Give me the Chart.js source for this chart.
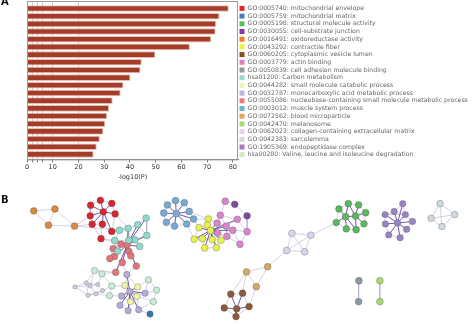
<!DOCTYPE html>
<html>
<head>
<meta charset="utf-8">
<script src="https://cdn.jsdelivr.net/npm/chart.js@4"></script>
<style>
  body { margin: 0; background: #fff; }
  #wrap { position: relative; width: 474px; height: 324px; overflow: hidden; }
  canvas { position: absolute; left: 0; }
  .tag { position: absolute; left: 1px; font: bold 10px "DejaVu Sans", sans-serif; color: #111; }
</style>
</head>
<body>
<div id="wrap">
  <canvas id="bars" width="474" height="181" style="top:0"></canvas>
  <canvas id="net" width="474" height="143" style="top:181px"></canvas>
  <div class="tag" style="top:-4px">A</div>
  <div class="tag" style="top:194px">B</div>
</div>
<script>
// ENRICHED TERMS
const terms = [
    "GO:0005740: mitochondrial envelope",
    "GO:0005759: mitochondrial matrix",
    "GO:0005198: structural molecule activity",
    "GO:0030055: cell-substrate junction",
    "GO:0016491: oxidoreductase activity",
    "GO:0043292: contractile fiber",
    "GO:0060205: cytoplasmic vesicle lumen",
    "GO:0003779: actin binding",
    "GO:0050839: cell adhesion molecule binding",
    "hsa01200: Carbon metabolism",
    "GO:0044282: small molecule catabolic process",
    "GO:0032787: monocarboxylic acid metabolic process",
    "GO:0055086: nucleobase-containing small molecule metabolic process",
    "GO:0003012: muscle system process",
    "GO:0072562: blood microparticle",
    "GO:0042470: melanosome",
    "GO:0062023: collagen-containing extracellular matrix",
    "GO:0042383: sarcolemma",
    "GO:1905369: endopeptidase complex",
    "hsa00280: Valine, leucine and isoleucine degradation"
];
const logP = [78.4, 74.8, 73.5, 73.3, 71.6, 63.3, 49.9, 44.6, 44.1, 40.2,
              37.5, 36.4, 33.3, 31.9, 31.1, 30.4, 29.7, 28.3, 27.1, 25.9];
const termColors = [
    "#e3262a", "#4a7ab8", "#5cb85c", "#7f3f98", "#f07f28",
    "#f2f23a", "#8b4a2b", "#e37cc6", "#999999", "#9cd9cf",
    "#eef5b5", "#bdb4dc", "#ef7a78", "#6fb3cf", "#e2a55a",
    "#a6dc6e", "#ecd3e6", "#d9d9d9", "#a57ac0", "#ccebc5"
];
const xTicks = [0, 2, 4, 6, 10, 20, 30, 40, 50, 60, 70, 80];
const cutoffs = [2, 4, 6, 10, 20];

const font = { family: "DejaVu Sans", size: 6.5 };

// box around the plot area
const frame = {
    id: "frame",
    afterDatasetsDraw(chart) {
        const a = chart.chartArea, ctx = chart.ctx;
        ctx.save();
        ctx.strokeStyle = "#9a9a9a";
        ctx.lineWidth = 1;
        ctx.strokeRect(a.left + 0.5, a.top + 0.5, a.right - a.left - 1, a.bottom - a.top);
        ctx.restore();
    }
};

new Chart(document.getElementById("bars"), {
    type: "bar",
    data: {
        datasets: [{
            data: logP.map((v, i) => ({ x: v, y: i })),
            backgroundColor: "#a43c28",
            borderColor: "#e2c0b6",
            borderWidth: 1,
            barPercentage: 0.86,
            categoryPercentage: 1
        }]
    },
    options: {
        indexAxis: "y",
        responsive: false,
        animation: false,
        devicePixelRatio: 1,
        layout: { padding: { left: 27, top: 1, right: 0, bottom: 0 } },
        scales: {
            y: {
                type: "linear", reverse: true, min: -0.98, max: 19.65, display: false,
                offset: false, grid: { offset: false }
            },
            x: {
                type: "linear", min: 0, max: 82, offset: false,
                afterBuildTicks: s => { s.ticks = xTicks.map(v => ({ value: v })); },
                ticks: {
                    autoSkip: false, maxRotation: 0, padding: 1, font, color: "#333",
                    callback: v => (v % 10 === 0 ? v : "")
                },
                grid: {
                    color: c => (c.tick && cutoffs.includes(c.tick.value) ? "#cfcfcf" : "rgba(0,0,0,0)"),
                    tickColor: "#777", tickLength: 3, offset: false
                },
                border: { color: "#888" },
                title: { display: true, text: "-log10(P)", font, color: "#333", padding: { top: 1, bottom: 0 } }
            }
        },
        plugins: {
            tooltip: { enabled: false },
            legend: {
                position: "right",
                align: "start",
                maxWidth: 236,
                title: { display: true, text: " ", font: { size: 1 }, padding: { top: 1.6, bottom: 0 } },
                labels: {
                    boxWidth: 5, boxHeight: 5, padding: 1.5,
                    font: { family: "DejaVu Sans", size: 6.2 }, color: "#333",
                    generateLabels: () => terms.map((t, i) => ({
                        text: t, fillStyle: termColors[i], strokeStyle: termColors[i],
                        lineWidth: 0, hidden: false, index: i
                    }))
                }
            }
        }
    },
    plugins: [frame]
});

// NETWORK NODES (layout units, one list per cluster)
const nodesO = [[29.7, 27], [51.3, 25], [44.7, 42.3], [71.3, 43.3]];
const nodesR = [[97.7, 15.7], [87.7, 21], [109.3, 19], [100.7, 28], [87.3, 32.3], [112.7, 30.3],
                [89.3, 41.3], [99.7, 41.3], [109.3, 49], [98.3, 56.7]];
const nodesT = [[144.3, 34.7], [135.7, 41.7], [126, 45.7], [117.3, 47.7], [145, 53.3], [133, 58],
                [126.7, 58.3], [112.3, 58.7], [137.7, 65], [115.3, 70]];
const nodesS = [[118.7, 62.7], [125, 63.3], [110.7, 67.3], [126.7, 70.3], [112, 75.7], [107.3, 78],
                [128.7, 75], [120, 82.3], [134.3, 86], [113.3, 92.7]];
const nodesM = [[91.7, 90.7], [99.3, 94.3], [109.3, 107.3], [107, 117.7], [146.7, 100.7], [155, 111.7], [151.7, 124]];
const nodesG = [[71.7, 108.3], [83.3, 104], [87.3, 107.3], [95, 105.7], [85, 117.3], [93.3, 115.7], [100, 112.3]];
const nodesL = [[124.7, 95], [127.7, 113], [119.3, 118], [143.3, 115], [117.7, 128], [126, 133.7], [136.7, 132.7]];
const nodesE = [[122.7, 106.7], [135.7, 108.3], [135, 118.3], [128.3, 124]];
const nodesK = [[148.3, 137.3]];
const nodesB = [[166, 20.7], [174.3, 16], [183.3, 18.3], [162.3, 29.3], [175, 30], [188.3, 27.7],
                [165, 39.3], [173.3, 43.3], [185.7, 41], [192.7, 35.7]];
const nodesY = [[207.7, 35.7], [198.3, 45], [206.7, 42.3], [210, 48], [193.3, 57.3], [201.7, 56.7],
                [211.7, 57.7], [220.7, 58.3], [204, 66.7], [216, 66.3]];
const nodesP = [[225, 16.7], [220, 31.7], [237.3, 36], [216.7, 40], [226, 43.3], [232.7, 47.7],
                [247.3, 49.3], [217.3, 50.7], [226.7, 54.3], [240, 62.7]];
const nodesD = [[234.7, 20], [247.3, 32.3]];
const nodesW = [[230.7, 116], [242.7, 115], [224, 130.7], [236.7, 131.7], [249.3, 129.3], [236, 140]];
const nodesN = [[246.7, 92.3], [268.3, 86.7], [256.7, 108]];
const nodesQ = [[293, 51], [312.3, 53], [287.7, 69.3], [306, 70.7]];
const nodesV = [[350.5, 19.3], [361, 20.7], [341, 25], [368.2, 29], [347.7, 33.2], [357.8, 32.5],
                [338.2, 39.5], [366.5, 40.8], [348.5, 46.2], [358.5, 47.2]];
const nodesU = [[406, 19.3], [397.3, 27.7], [388, 31], [408.7, 31], [416, 38.3], [400.7, 40],
                [388.3, 41], [410, 46.7], [391.7, 52.7], [403.3, 55.7]];
const nodesC = [[444, 19.3], [459, 31], [435, 35], [446, 43.7]];
const nodesA = [[361.3, 101.7], [361, 124]];
const nodesH = [[382.7, 101.7], [382.7, 124]];

// key -> [nodes, fill colour, radius]
const groups = {
    o: [nodesO, "#d98a3e", 3.4], r: [nodesR, "#d8262e", 3.4], t: [nodesT, "#90dacb", 3.4],
    s: [nodesS, "#e27578", 3.4], m: [nodesM, "#c8edd4", 3.2], g: [nodesG, "#c9d4e0", 2.1],
    l: [nodesL, "#b5acd9", 3.2], e: [nodesE, "#eef4a6", 3.2], k: [nodesK, "#3a76ae", 3.2],
    b: [nodesB, "#77aad4", 3.4], y: [nodesY, "#e8f24d", 3.4], p: [nodesP, "#d985cf", 3.4],
    d: [nodesD, "#7c4b9e", 3.4], w: [nodesW, "#8b5a3b", 3.4], n: [nodesN, "#d5ab63", 3.4],
    q: [nodesQ, "#dad5eb", 3.4], v: [nodesV, "#5cb85f", 3.4], u: [nodesU, "#9a83c5", 3.2],
    c: [nodesC, "#cfdadf", 3.3], a: [nodesA, "#8b99a0", 3.4], h: [nodesH, "#a8da6c", 3.4]
};

// EDGES
const hubEdges = [
    "r3-r0", "r3-r1", "r3-r2", "r3-r4", "r3-r5", "r3-r6", "r3-r7", "r3-r8",
    "s1-t0", "s1-t1", "s1-t2", "s1-t4", "s1-t5", "s1-t6", "s1-t8", "s1-s3", "s1-s6", "s1-s7", "s1-s4", "s1-s8", "s1-s9",
    "l1-l0", "l1-e0", "l1-e1", "l1-l2", "l1-l3", "l1-e2", "l1-e3", "l1-l4", "l1-l5", "l1-l6",
    "b4-b0", "b4-b1", "b4-b2", "b4-b3", "b4-b5", "b4-b6", "b4-b7", "b4-b8", "b4-b9",
    "y3-y0", "y3-y1", "y3-y2", "y3-y4", "y3-y5", "y3-y6", "y3-y7", "y3-y8", "y3-y9", "y3-p3", "y3-p4", "y3-p5", "y3-p7", "y3-p2",
    "w3-w0", "w3-w1", "w3-w2", "w3-w4", "w3-w5",
    "v5-v0", "v5-v1", "v5-v3", "v5-v7", "v5-v9", "v4-v2", "v4-v6", "v4-v8", "v4-v0", "v4-v9", "v4-v5",
    "u5-u0", "u5-u1", "u5-u2", "u5-u3", "u5-u4", "u5-u6", "u5-u7", "u5-u8", "u5-u9"
];
const thinEdges = [
    "o0-o1", "o0-o2", "o1-o2", "o1-o3", "o2-o3", "o3-r4", "o3-r6", "o3-t3",
    "r1-r0", "r0-r2", "r1-r4", "r2-r5", "r4-r6", "r6-r7", "r7-r8", "r5-r8", "r7-r9", "r6-r9",
    "r8-t3", "r9-t7", "r9-s0", "r5-t2", "r8-t2",
    "t0-t1", "t1-t2", "t2-t3", "t4-t5", "t5-t6", "t6-t7", "t7-t9", "t8-t5", "t0-t4", "t1-t4", "t2-t6", "t3-t7",
    "t9-s2", "s0-s2", "s2-s5", "s4-s5", "s3-s6", "s6-s8", "s7-s9", "s4-s7", "t9-s0", "s0-s1",
    "s9-m0", "s7-l0", "s9-m1", "s8-l0", "l0-e0", "m1-m2",
    "m0-m1", "m0-g1", "m0-g2", "g0-g1", "g0-g4", "g1-g4", "g0-g2", "g2-g3", "g3-g6", "g2-g5", "g4-g5",
    "g5-g6", "g1-g3", "g4-g6", "m1-g3", "g6-m2", "m2-m3", "m2-e0", "m3-l2", "g5-m3",
    "l0-e1", "e1-m4", "m4-m5", "m5-l3", "l3-e2", "m5-m6", "m6-l6", "l6-k0", "e2-l6", "e3-l5", "l4-l5",
    "l2-l4", "e3-l2", "m4-l3", "m6-e2",
    "b0-b1", "b1-b2", "b0-b3", "b3-b6", "b6-b7", "b7-b8", "b8-b9", "b9-b5", "b5-b2", "b9-y1", "b8-y4", "b5-y0", "b9-y0",
    "y0-y2", "y1-y2", "y1-y4", "y4-y5", "y5-y6", "y6-y7", "y5-y8", "y8-y9", "y6-y9", "y7-y9", "y0-p3", "y2-p7",
    "p0-p1", "p0-d0", "p1-p2", "p1-p3", "p2-d1", "d0-d1", "p2-p4", "p4-p5", "p3-p4", "p5-p6", "p6-p2",
    "p6-p9", "p5-p9", "p8-p9", "p7-p8", "p4-p8", "p5-p8", "d1-p6", "p1-p4",
    "w0-w1", "w0-w2", "w1-w4", "w2-w5", "w4-w5", "w1-n0", "w4-n2", "w0-n0",
    "n0-n1", "n0-n2", "n1-n2", "n1-q2",
    "q0-q1", "q0-q2", "q1-q3", "q2-q3", "q0-q3", "q1-q2", "q1-v6",
    "v0-v1", "v1-v3", "v3-v7", "v7-v9", "v9-v8", "v8-v6", "v6-v2", "v2-v0",
    "u0-u1", "u0-u3", "u1-u2", "u3-u4", "u4-u7", "u7-u9", "u9-u8", "u8-u6", "u6-u2", "u1-u3", "u2-u3",
    "c0-c1", "c0-c2", "c2-c3", "c1-c3", "c0-c3", "c2-c1",
    "a0-a1", "h0-h1"
];

function nodeAt(id) {
    const p = groups[id[0]][0][Number(id.slice(1))];
    return { x: p[0], y: p[1] };
}

// each edge becomes two points followed by a gap
function edgePoints(list) {
    const pts = [];
    list.forEach(e => {
        const [a, b] = e.split("-");
        pts.push(nodeAt(a), nodeAt(b), { x: null, y: null });
    });
    return pts;
}

const netSets = [
    { data: edgePoints(thinEdges), showLine: true, spanGaps: false, pointRadius: 0,
      borderColor: "rgba(160,150,205,0.55)", borderWidth: 0.8, order: 20, clip: false },
    { data: edgePoints(hubEdges), showLine: true, spanGaps: false, pointRadius: 0,
      borderColor: "rgba(88,58,150,0.85)", borderWidth: 1, order: 10, clip: false }
];
Object.keys(groups).forEach(k => {
    const [pts, color, r] = groups[k];
    netSets.push({
        data: pts.map(p => ({ x: p[0], y: p[1] })),
        pointRadius: r,
        backgroundColor: color,
        borderColor: "rgba(80,80,80,0.55)",
        borderWidth: 0.6,
        order: 0,
        clip: false
    });
});

new Chart(document.getElementById("net"), {
    type: "scatter",
    data: { datasets: netSets },
    options: {
        responsive: false,
        animation: false,
        devicePixelRatio: 1,
        layout: { padding: 0 },
        scales: {
            x: { display: false, min: 0, max: 474 },
            y: { display: false, min: 0, max: 143, reverse: true }
        },
        plugins: { legend: { display: false }, tooltip: { enabled: false } }
    }
});
</script>
</body>
</html>
